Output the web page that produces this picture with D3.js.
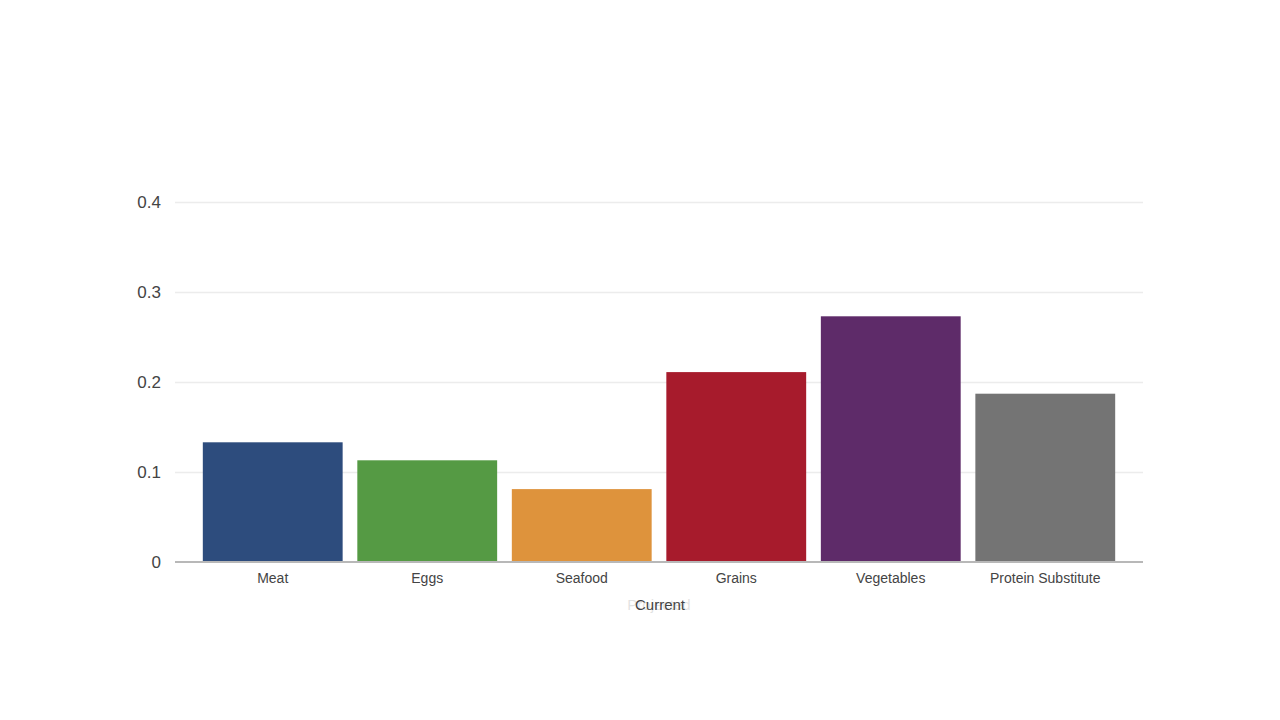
<!DOCTYPE html>
<html>
<head>
<meta charset="utf-8">
<style>
    body { margin: 0; background: #fff; }
    .grid line { stroke: #ececec; stroke-width: 1.5; }
    .grid path { display: none; }
    text { font-family: "Liberation Sans", Arial, sans-serif; }
</style>
<script src="https://d3js.org/d3.v7.min.js"></script>
</head>
<body>
<svg width="1280" height="720"></svg>
<script>
// data
var categories = ["Meat", "Eggs", "Seafood", "Grains", "Vegetables", "Protein Substitute"];
var values = [0.133, 0.113, 0.081, 0.211, 0.273, 0.187];
var colors = ["#2d4c7d", "#559a44", "#de933c", "#a71b2c", "#5e2b69", "#747474"];
var yTicks = [0, 0.1, 0.2, 0.3, 0.4];
var xTitle = "Current";

var svg = d3.select("svg"),
    margin = {top: 202, right: 137, bottom: 158, left: 175},
    width = +svg.attr("width") - margin.left - margin.right,
    height = +svg.attr("height") - margin.top - margin.bottom;

var x = d3.scaleBand().domain(categories).range([0, width]).paddingInner(0.095).paddingOuter(0.18),
    y = d3.scaleLinear().domain([0, 0.4]).range([height, 0]);

var g = svg.append("g")
    .attr("transform", "translate(" + margin.left + "," + margin.top + ")");

// gridlines
g.append("g")
    .attr("class", "grid")
    .call(d3.axisLeft(y).tickValues(yTicks.slice(1)).tickSize(-width).tickFormat(""));

// y tick labels
g.selectAll(".ylab")
    .data(yTicks)
  .enter().append("text")
    .attr("class", "ylab")
    .attr("x", -14)
    .attr("y", function(d) { return y(d); })
    .attr("dy", "0.36em")
    .attr("text-anchor", "end")
    .attr("fill", "#444")
    .style("font-size", "17px")
    .text(function(d) { return d === 0 ? "0" : d3.format(".1f")(d); });

// bars
g.selectAll(".bar")
    .data(values)
  .enter().append("rect")
    .attr("class", "bar")
    .attr("x", function(d, i) { return x(categories[i]); })
    .attr("y", function(d) { return y(d); })
    .attr("width", x.bandwidth())
    .attr("height", function(d) { return height - y(d); })
    .attr("fill", function(d, i) { return colors[i]; });

// baseline
g.append("line")
    .attr("x1", 0).attr("x2", width)
    .attr("y1", y(0)).attr("y2", y(0))
    .attr("stroke", "#b8b8b8")
    .attr("stroke-width", 2);

// x labels
g.selectAll(".xlab")
    .data(categories)
  .enter().append("text")
    .attr("class", "xlab")
    .attr("x", function(d) { return x(d) + x.bandwidth() / 2; })
    .attr("y", height + 21)
    .attr("text-anchor", "middle")
    .attr("fill", "#444")
    .style("font-size", "14px")
    .text(function(d) { return d; });

// axis title (ghost of the previous title fading out behind it)
g.append("text")
    .attr("x", width / 2 + 0)
    .attr("y", height + 48)
    .attr("text-anchor", "middle")
    .attr("fill", "#444")
    .attr("opacity", 0.15)
    .style("font-size", "15px")
    .text("Projected");

g.append("text")
    .attr("x", width / 2 + 1)
    .attr("y", height + 48)
    .attr("text-anchor", "middle")
    .attr("fill", "#444")
    .style("font-size", "15px")
    .text(xTitle);
</script>
</body>
</html>
